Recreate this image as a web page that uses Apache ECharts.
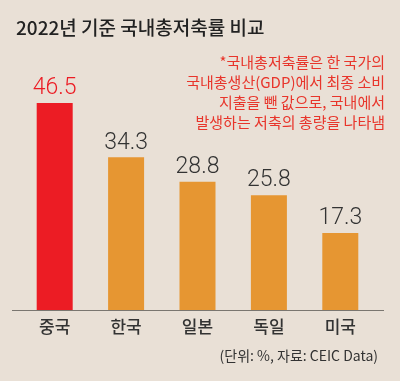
<!DOCTYPE html>
<html><head><meta charset="utf-8">
<script src="https://cdn.jsdelivr.net/npm/echarts@6/dist/echarts.min.js"></script>
<style>html,body{margin:0;padding:0;background:#e9e0d6;}#c{width:400px;height:381px;}</style>
</head><body><div id="c"></div>
<script>
const categories = ['중국', '한국', '일본', '독일', '미국'];
const values = [46.5, 34.3, 28.8, 25.8, 17.3];
const highlight = ['중국'];
const titleText = '2022년 기준 국내총저축률 비교';
const noteLines = ['*국내총저축률은 한 국가의', '국내총생산(GDP)에서 최종 소비', '지출을 뺀 값으로, 국내에서', '발생하는 저축의 총량을 나타냄'];
const sourceText = '(단위: %, 자료: CEIC Data)';

const RED = '#ec1c24', ORANGE = '#e69632';
const chart = echarts.init(document.getElementById('c'));
chart.setOption({
  backgroundColor: '#e9e0d6',
  animation: false,
  title: [
    { text: titleText, left: 11, top: 13,
      textStyle: { fontFamily: 'Noto Sans CJK KR', fontSize: 19, fontWeight: 500, color: '#222' } },
    { text: sourceText, right: 17, top: 344,
      textStyle: { fontFamily: 'Noto Sans CJK KR', fontSize: 14, fontWeight: 400, color: '#333' } }
  ],
  grid: { left: 19, right: 24, top: 87.5, bottom: 71 },
  xAxis: {
    type: 'category', data: categories,
    axisLine: { show: false }, axisTick: { show: false },
    axisLabel: { margin: 8, fontFamily: 'Noto Sans CJK KR', fontSize: 17, fontWeight: 500, color: '#333' }
  },
  yAxis: { type: 'value', min: 0, max: 50, show: false, splitLine: { show: false } },
  graphic: [
    { type: 'line', shape: { x1: 12, y1: 310.5, x2: 384, y2: 310.5 }, style: { stroke: '#7a7670', lineWidth: 1 }, z: 10 }
  ].concat(noteLines.map((t, i) => ({
    type: 'text', right: 15, top: 55 + i * 20,
    style: { text: t, fill: '#e8352b', font: '400 15px "Noto Sans CJK KR"' }
  }))),
  series: [{
    type: 'bar', barWidth: 36,
    data: values.map((v, i) => ({
      value: v,
      itemStyle: { color: highlight.includes(categories[i]) ? RED : ORANGE },
      label: { color: highlight.includes(categories[i]) ? RED : '#333' }
    })),
    label: { show: true, position: 'top', distance: 3, fontFamily: 'Roboto', fontWeight: 300, fontSize: 23, formatter: p => p.value.toFixed(1) }
  }]
});
</script></body></html>
